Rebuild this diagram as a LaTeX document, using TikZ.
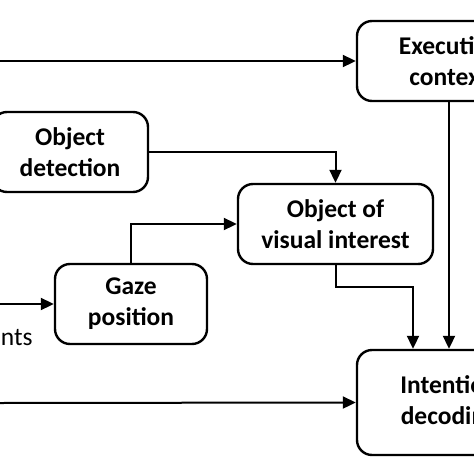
\documentclass[tikz,border=0pt]{standalone}
\usepackage{fontspec}
\setmainfont{Carlito}
\usetikzlibrary{positioning,arrows.meta,shapes}

\begin{document}
\begin{tikzpicture}[>={Triangle[width=12pt,length=13pt]}, line width=2pt,
	block/.style={draw, rounded corners=15pt, line width=2.4pt, align=center, inner sep=0pt, font=\fontsize{25.5}{31}\selectfont\bfseries}]
	\clip (0.0pt, 0.0pt) rectangle (474.0pt, -474.0pt);
	\useasboundingbox (0.0pt, 0.0pt) rectangle (474.0pt, -474.0pt);
	\draw (449.0pt, -61.0pt)node[block, minimum width=184pt, minimum height=80pt](exec){Executive\\context};
	\draw (70.0pt, -152.0pt)node[block, minimum width=156pt, minimum height=80pt](objdet){Object\\detection};
	\draw (335.5pt, -224.0pt)node[block, minimum width=195pt, minimum height=80pt](ovi){Object of\\visual interest};
	\draw (131.0pt, -304.0pt)node[block, minimum width=152pt, minimum height=80pt](gaze){Gaze\\position};
	\draw (449.0pt, -402.5pt)node[block, minimum width=184pt, minimum height=105pt](intent){Intention\\decoding};
	\draw (0.0pt, -338.0pt)node[anchor=west, inner sep=0pt, font=\fontsize{25.5}{31}\selectfont](lbl){nts};
	\coordinate (inexec) at (0.0pt, -61.0pt);
	\coordinate (ingaze) at (0.0pt, -304.0pt);
	\coordinate (inintent) at (0.0pt, -403.0pt);
	\draw[->] (inexec) -- (exec.west);
	\draw[->] (ingaze) -- (gaze.west);
	\draw[->] (inintent) -- (intent.west);
	\draw[->] (objdet.east) -| (ovi.north);
	\draw[->] (gaze.north) |- (ovi.west);
	\draw[->] (ovi.south) -- ++(0pt, -22pt) -| ([xshift=-36pt]intent.north);
	\draw[->] (exec.south) -- (intent.north);
\end{tikzpicture}
\end{document}
